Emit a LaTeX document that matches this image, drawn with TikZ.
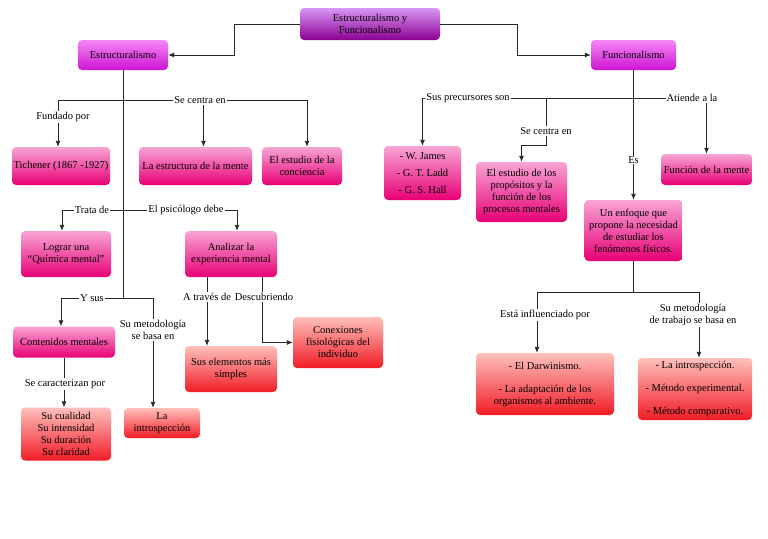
\documentclass[tikz,border=0pt]{standalone}
\usepackage{fontspec}
\setmainfont{Liberation Serif}
\definecolor{titletop}{RGB}{215, 150, 245}
\definecolor{titlebot}{RGB}{140, 0, 145}
\definecolor{maintop}{RGB}{245, 135, 245}
\definecolor{mainbot}{RGB}{205, 20, 210}
\definecolor{pinktop}{RGB}{248, 165, 212}
\definecolor{pinkbot}{RGB}{232, 0, 118}
\definecolor{redtop}{RGB}{255, 192, 188}
\definecolor{redbot}{RGB}{240, 28, 38}
\usetikzlibrary{arrows.meta, positioning}

\begin{document}
\begin{tikzpicture}[x=1pt, y=-1pt,
  box/.style={rounded corners=4pt, align=center, inner sep=1.5pt, text=black,
    font=\fontsize{10.5}{12}\selectfont},
  titlebox/.style={box, top color=titletop, bottom color=titlebot},
  mainbox/.style={box, top color=maintop, bottom color=mainbot},
  pinkbox/.style={box, top color=pinktop, bottom color=pinkbot},
  redbox/.style={box, top color=redtop, bottom color=redbot},
  lbl/.style={fill=white, inner sep=1pt, align=center, text=black,
    font=\fontsize{10.5}{12}\selectfont},
  link/.style={line width=0.9pt, black!85},
  arr/.style={link, -{Latex[length=6pt, width=5pt]}}]
  \fill[white] (0, 0) rectangle (768, 538);
  \useasboundingbox (0, 0) rectangle (768, 538);

  % Title and the two branches
  \node[titlebox, minimum width=140pt, minimum height=32pt] (tit) at (370, 24) {Estructuralismo y\\Funcionalismo};
  \node[mainbox, minimum width=90pt, minimum height=30pt] (estr) at (123, 55) {Estructuralismo};
  \node[mainbox, minimum width=85pt, minimum height=30pt] (func) at (633.5, 55) {Funcionalismo};

  \draw[arr] (tit.west) -- ++(-65, 0) |- (estr.east);
  \draw[arr] (tit.east) -- ++(77, 0) |- (func.west);

  % Estructuralismo
  \node[pinkbox, minimum width=98pt, minimum height=38pt] (tich) at (61, 166) {Tichener (1867 -1927)};
  \node[pinkbox, minimum width=113pt, minimum height=38pt] (mente) at (195.5, 166) {La estructura de la mente};
  \node[pinkbox, minimum width=80pt, minimum height=38pt] (conc) at (302, 166) {El estudio de la\\conciencia};
  \node[pinkbox, minimum width=90pt, minimum height=46pt] (logr) at (66, 254) {Lograr una\\“Química mental”};
  \node[pinkbox, minimum width=92pt, minimum height=46pt] (anal) at (231, 254) {Analizar la\\experiencia mental};
  \node[pinkbox, minimum width=102pt, minimum height=31pt] (cont) at (64, 342) {Contenidos mentales};
  \node[redbox, minimum width=90pt, minimum height=53pt] (cual) at (66, 434) {Su cualidad\\Su intensidad\\Su duración\\Su claridad};
  \node[redbox, minimum width=76pt, minimum height=30pt] (intro) at (162, 423) {La\\introspección};
  \node[redbox, minimum width=92pt, minimum height=46pt] (elem) at (231, 369) {Sus elementos más\\simples};
  \node[redbox, minimum width=90pt, minimum height=51pt] (conx) at (338, 342.5) {Conexiones\\fisiológicas del\\individuo};

  \coordinate (sc) at (123, 100);
  \coordinate (td) at (123, 210);
  \coordinate (ys) at (123, 298);

  \draw[link] (estr.south) -- (ys);
  \draw[arr] (sc) -| ([xshift=-3pt]tich.north);
  \draw[arr] (sc) -| ([xshift=8pt]mente.north);
  \draw[arr] (sc) -| ([xshift=5pt]conc.north);
  \draw[arr] (td) -| ([xshift=-4pt]logr.north);
  \draw[arr] (td) -| ([xshift=6pt]anal.north);
  \draw[arr] (ys) -| ([xshift=-3pt]cont.north);
  \draw[arr] (ys) -| ([xshift=-9pt]intro.north);
  \draw[arr] (cont.south) -- (cont.south |- cual.north);
  \draw[arr] ([xshift=-24pt]anal.south) -- ([xshift=-24pt]elem.north);
  \draw[arr] ([xshift=31pt]anal.south) |- (conx.west);

  \node[lbl] (lfund) at (63, 117) {Fundado por};
  \node[lbl] (lcen) at (200, 100) {Se centra en};
  \node[lbl] (ltrat) at (92, 210) {Trata de};
  \node[lbl] (lpsic) at (186, 210) {El psicólogo debe};
  \node[lbl] (lysus) at (92, 298) {Y sus};
  \node[lbl] (lmet) at (153, 330) {Su metodología\\se basa en};
  \node[lbl] (lcar) at (65, 384) {Se caracterizan por};
  \node[lbl] (ltra) at (207, 297) {A través de};
  \node[lbl] (ldes) at (264, 297) {Descubriendo};

  % Funcionalismo
  \node[pinkbox, minimum width=77pt, minimum height=54pt] (james) at (422.5, 173) {- W. James\\[5pt]- G. T. Ladd\\[5pt]- G. S. Hall};
  \node[pinkbox, minimum width=91pt, minimum height=60pt] (prop) at (521.5, 192) {El estudio de los\\propósitos y la\\función de los\\procesos mentales};
  \node[pinkbox, minimum width=91pt, minimum height=31pt] (fmente) at (706.5, 169.5) {Función de la mente};
  \node[pinkbox, minimum width=98pt, minimum height=61pt] (enfo) at (633.5, 230.5) {Un enfoque que\\propone la necesidad\\de estudiar los\\fenómenos físicos.};
  \node[redbox, minimum width=138pt, minimum height=62pt] (darw) at (545, 384) {- El Darwinismo.\\[11pt]- La adaptación de los\\organismos al ambiente.};
  \node[redbox, minimum width=114pt, minimum height=62pt] (meto) at (695, 389) {- La introspección.\\[11pt]- Método experimental.\\[11pt]- Método comparativo.};

  \coordinate (fr) at (633.5, 98);
  \coordinate (sr) at (546, 98);
  \coordinate (eb) at (633.5, 292);

  \draw[arr] (func.south) -- (enfo.north);
  \draw[arr] (fr) -| (james.north);
  \draw[arr] (fr) -| (fmente.north);
  \draw[arr] (sr) -- ++(0, 47) -| (prop.north);
  \draw[link] (enfo.south) -- (eb);
  \draw[arr] (eb) -| ([xshift=-8pt]darw.north);
  \draw[arr] (eb) -| ([xshift=4pt]meto.north);

  \node[lbl] (les) at (633.5, 160) {Es};
  \node[lbl] (lprec) at (468, 98) {Sus precursores son};
  \node[lbl] (lcen2) at (546, 131) {Se centra en};
  \node[lbl] (lati) at (692, 98) {Atiende a la};
  \node[lbl] (linf) at (545, 315) {Está influenciado por};
  \node[lbl] (lmet2) at (693, 315) {Su metodología\\de trabajo se basa en};
\end{tikzpicture}
\end{document}
